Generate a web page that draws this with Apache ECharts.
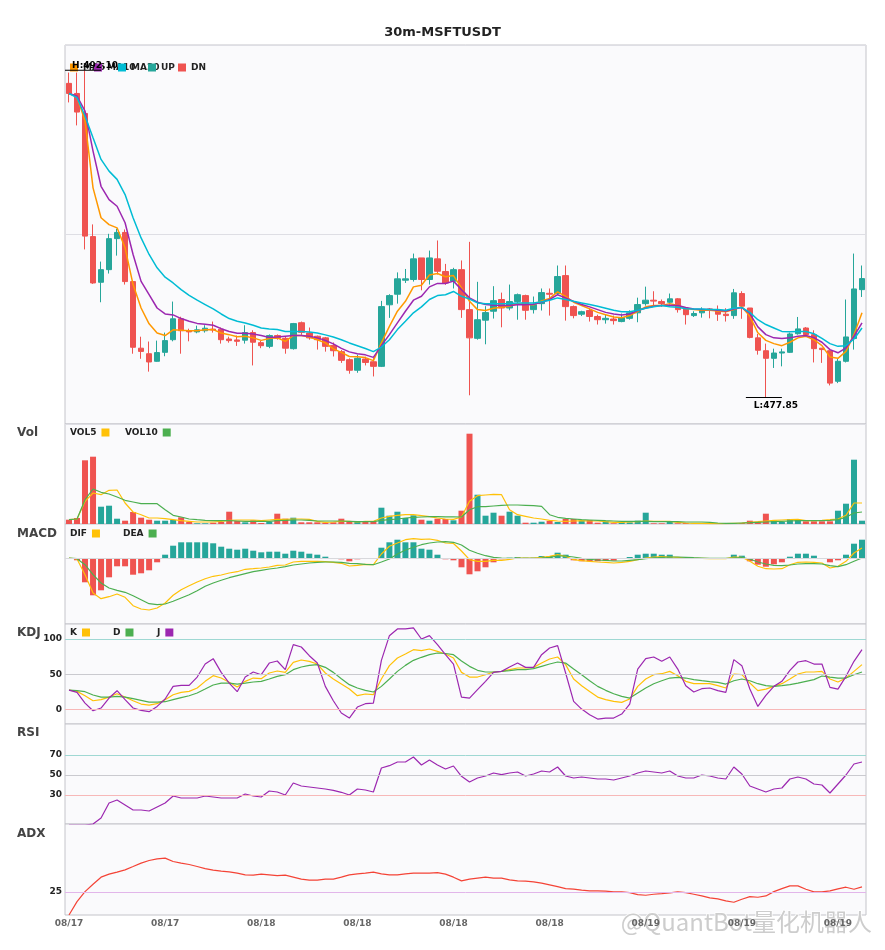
<!DOCTYPE html>
<html>
<head>
<meta charset="utf-8">
<script src="https://cdn.jsdelivr.net/npm/echarts@6.0.0/dist/echarts.min.js"></script>
<style>
  html, body { margin: 0; padding: 0; background: #fff; }
  #chart { width: 885px; height: 950px; }
</style>
</head>
<body>
<div id="chart"></div>
<script>
// candle values (30m bars from 08/17 14:00)
var opens = [
  491.53, 491.09, 490.22, 484.86, 482.87, 483.42, 484.77, 485.04, 482.90, 480.00,
  479.76, 479.43, 479.82, 480.37, 481.28, 480.76, 480.71, 480.76, 480.83, 480.83,
  480.40, 480.36, 480.35, 480.68, 480.24, 480.08, 480.55, 480.43, 479.98, 481.11,
  480.66, 480.52, 480.45, 480.12, 479.85, 479.50, 479.04, 479.53, 479.41, 479.21,
  481.89, 482.35, 482.96, 482.99, 483.93, 482.99, 483.89, 483.34, 482.92, 483.42,
  481.68, 480.43, 481.22, 481.61, 482.12, 481.75, 482.03, 482.29, 481.68, 481.94,
  482.39, 482.38, 483.16, 481.81, 481.48, 481.64, 481.38, 481.24, 481.27, 481.16,
  481.30, 481.54, 481.94, 482.09, 482.03, 482.00, 482.15, 481.71, 481.42, 481.54,
  481.71, 481.64, 481.48, 481.42, 482.38, 481.75, 480.45, 479.89, 479.56, 479.79,
  479.82, 480.63, 480.88, 480.59, 480.00, 479.89, 478.56, 479.43, 480.42, 482.55
];
var closes = [
  491.09, 490.28, 484.88, 482.84, 483.42, 484.77, 485.04, 482.90, 480.04, 479.86,
  479.40, 479.81, 480.33, 481.28, 480.76, 480.71, 480.80, 480.87, 480.79, 480.37,
  480.33, 480.30, 480.68, 480.26, 480.11, 480.55, 480.43, 480.00, 481.07, 480.69,
  480.45, 480.37, 480.08, 479.89, 479.47, 479.04, 479.56, 479.38, 479.21, 481.81,
  482.29, 483.02, 483.02, 483.89, 482.99, 483.93, 483.35, 482.84, 483.42, 481.68,
  480.45, 481.24, 481.55, 482.07, 481.75, 482.03, 482.33, 481.65, 481.90, 482.42,
  482.35, 483.12, 481.81, 481.42, 481.59, 481.38, 481.24, 481.30, 481.20, 481.33,
  481.54, 481.90, 482.09, 482.05, 481.94, 482.15, 481.68, 481.46, 481.51, 481.68,
  481.67, 481.48, 481.42, 482.41, 481.83, 480.47, 479.91, 479.56, 479.79, 479.84,
  480.62, 480.84, 480.59, 479.98, 479.94, 478.48, 479.43, 480.49, 482.58, 483.03
];
var highs = [
  492.00, 492.00, 492.10, 485.39, 483.77, 484.98, 485.20, 485.17, 482.90, 480.50,
  480.29, 480.33, 480.68, 482.03, 481.37, 480.85, 480.98, 481.00, 481.16, 480.90,
  480.50, 480.55, 481.00, 480.78, 480.33, 480.60, 480.60, 480.49, 481.10, 481.16,
  480.90, 480.55, 480.49, 480.25, 479.92, 479.56, 479.72, 479.63, 479.57, 482.06,
  482.35, 483.30, 483.45, 484.12, 483.93, 484.25, 484.69, 483.67, 483.50, 483.82,
  484.63, 482.89, 481.83, 482.70, 482.42, 482.77, 482.38, 482.33, 482.25, 482.60,
  482.60, 483.60, 483.60, 481.86, 481.63, 481.74, 481.46, 481.46, 481.42, 481.51,
  481.65, 482.20, 482.68, 482.48, 482.12, 482.38, 482.18, 481.75, 481.61, 481.78,
  481.75, 481.86, 481.74, 482.58, 482.48, 481.75, 480.62, 480.20, 479.98, 479.98,
  480.68, 481.36, 480.92, 480.78, 480.00, 479.89, 479.54, 482.12, 484.12, 483.60
];
var lows = [
  490.70, 489.70, 484.30, 482.80, 482.00, 483.25, 484.03, 482.77, 479.76, 479.54,
  478.98, 479.41, 479.65, 480.30, 479.76, 480.30, 480.65, 480.68, 480.68, 480.20,
  480.24, 480.10, 480.20, 479.25, 480.00, 480.00, 480.37, 479.76, 479.94, 480.58,
  480.37, 479.94, 479.85, 479.64, 479.36, 478.89, 478.93, 479.25, 478.77, 479.18,
  481.32, 481.94, 482.84, 482.90, 482.52, 482.77, 483.21, 482.76, 482.60, 481.32,
  477.95, 480.37, 480.17, 481.29, 480.91, 481.65, 481.24, 481.24, 481.51, 481.64,
  481.42, 482.33, 481.20, 481.30, 481.40, 481.16, 481.03, 481.07, 481.03, 481.13,
  481.24, 481.13, 481.85, 481.80, 481.80, 481.90, 481.55, 481.03, 481.36, 481.33,
  481.30, 481.19, 481.16, 481.28, 481.28, 480.43, 479.72, 477.85, 479.14, 479.21,
  479.79, 480.59, 480.52, 479.38, 479.36, 478.38, 478.48, 479.38, 479.94, 482.23
];
var ma5 = [
  491.09, 490.95, 489.89, 486.98, 485.68, 485.38, 485.24, 484.37, 482.77, 481.75,
  481.06, 480.66, 480.55, 480.80, 480.78, 480.76, 480.76, 480.80, 480.81, 480.66,
  480.59, 480.50, 480.52, 480.45, 480.34, 480.42, 480.45, 480.30, 480.55, 480.55,
  480.49, 480.37, 480.23, 479.97, 479.82, 479.64, 479.63, 479.59, 479.46, 480.23,
  480.95, 481.61, 482.04, 482.67, 482.74, 483.19, 483.25, 483.11, 483.16, 482.63,
  482.04, 481.68, 481.64, 481.74, 481.78, 481.83, 481.94, 481.90, 481.89, 482.06,
  482.17, 482.45, 482.26, 482.00, 481.86, 481.71, 481.56, 481.46, 481.36, 481.33,
  481.42, 481.61, 481.80, 481.86, 481.86, 481.94, 481.86, 481.74, 481.68, 481.65,
  481.65, 481.62, 481.59, 481.68, 481.80, 481.39, 480.67, 480.34, 480.20, 480.11,
  480.26, 480.45, 480.52, 480.37, 480.11, 479.62, 479.56, 479.86, 480.59, 481.54
];
var ma10 = [
  491.09, 490.98, 490.32, 488.58, 487.05, 486.47, 486.18, 485.46, 484.08, 482.91,
  482.33, 481.75, 481.49, 481.45, 481.29, 481.17, 481.08, 481.04, 481.00, 480.85,
  480.73, 480.65, 480.65, 480.62, 480.55, 480.47, 480.49, 480.52, 480.55, 480.55,
  480.52, 480.45, 480.34, 480.19, 479.99, 479.84, 479.76, 479.71, 479.60, 480.11,
  480.59, 481.10, 481.61, 482.09, 482.26, 482.67, 482.82, 482.82, 482.92, 482.55,
  482.19, 482.00, 481.90, 481.87, 481.86, 481.86, 481.89, 481.89, 481.91, 482.00,
  482.12, 482.33, 482.19, 482.04, 481.90, 481.80, 481.68, 481.56, 481.49, 481.45,
  481.49, 481.64, 481.75, 481.83, 481.86, 481.87, 481.86, 481.77, 481.71, 481.68,
  481.68, 481.65, 481.62, 481.71, 481.77, 481.51, 480.93, 480.59, 480.45, 480.42,
  480.45, 480.52, 480.55, 480.46, 480.26, 479.94, 479.80, 480.01, 480.52, 481.10
];
var ma20 = [
  491.09, 490.91, 490.11, 489.16, 488.22, 487.71, 487.35, 486.69, 485.68, 484.80,
  484.08, 483.50, 483.09, 482.84, 482.55, 482.30, 482.09, 481.90, 481.71, 481.49,
  481.29, 481.17, 481.10, 481.00, 480.88, 480.84, 480.81, 480.73, 480.73, 480.73,
  480.71, 480.66, 480.58, 480.49, 480.37, 480.23, 480.11, 479.99, 479.85, 480.05,
  480.37, 480.81, 481.17, 481.54, 481.80, 482.12, 482.29, 482.33, 482.47, 482.26,
  482.14, 481.97, 481.94, 481.94, 481.94, 481.95, 481.97, 481.97, 481.97, 482.02,
  482.09, 482.19, 482.12, 482.04, 481.97, 481.90, 481.83, 481.74, 481.65, 481.59,
  481.59, 481.65, 481.74, 481.80, 481.86, 481.80, 481.78, 481.72, 481.71, 481.71,
  481.69, 481.68, 481.65, 481.74, 481.77, 481.56, 481.24, 481.03, 480.88, 480.73,
  480.72, 480.73, 480.73, 480.63, 480.43, 480.20, 480.08, 480.11, 480.40, 480.88
];
var vol = [
  4.3, 6, 63.7, 67.3, 17.3, 18.3, 5.3, 3.3, 12, 6.3,
  4.3, 3.3, 3.3, 4, 6.7, 2.3, 0.7, 0.7, 1.3, 2,
  12.3, 3, 1.7, 3.7, 1, 2.3, 10.3, 5.3, 6.3, 1.7,
  1.7, 1.7, 1.3, 1.7, 5.3, 2.7, 2.3, 2.7, 2.7, 16.3,
  8.3, 12.3, 6, 8.7, 4.3, 3.3, 5.3, 5, 3.7, 13.3,
  90.3, 29.3, 8.3, 11.3, 8.3, 12.3, 8.3, 1.3, 1.3, 2.3,
  3, 2, 5, 5, 3.3, 4, 1.3, 2.7, 0.7, 2,
  1.7, 3.3, 11.3, 0.7, 0.7, 2, 0.7, 1, 0.3, 0.3,
  0.3, 0.7, 1, 1, 1, 3.3, 1.7, 10.3, 3.3, 2,
  5, 4, 2.7, 2.7, 2.7, 2.7, 13.3, 20.3, 64.3, 3.3
];
var vol5 = [
  4.3, 5, 22.7, 31, 29.3, 33.7, 34, 21, 12, 9.3,
  6, 6, 5.3, 4.3, 3.3, 2.7, 2, 2, 2, 2.7,
  3.7, 4, 4, 4, 3.3, 4, 4.7, 4.7, 5, 5,
  4.7, 2.7, 1.7, 2, 2.7, 2.7, 2, 2.7, 2.7, 6,
  7.7, 8.7, 9.3, 9.3, 8.3, 7.3, 6, 5, 4.7, 7,
  22.7, 28.3, 29, 29.7, 29.3, 14.3, 9.3, 7.7, 6, 5,
  3.7, 3, 2.7, 3, 3.3, 3, 3, 2.3, 1.7, 1.7,
  2, 2.3, 3, 2.7, 2.7, 2.7, 1.7, 1, 0.7, 0.7,
  0.3, 0.3, 0.3, 0.7, 1, 1.7, 2.3, 3, 3.7, 4,
  4.3, 4.7, 3.3, 3.3, 3.7, 4.3, 5, 8.7, 21, 21
];
var vol10 = [
  4.3, 5, 24.3, 35, 31.7, 30, 27, 23.7, 22, 20.3,
  20.3, 20.3, 14.3, 8.7, 7, 5, 4.3, 3.7, 3.3, 3.3,
  3.3, 3, 2.7, 2.7, 2.7, 2.7, 3.3, 3.7, 4, 4,
  3.7, 3, 3, 3, 3, 2.7, 2.3, 2.3, 2.3, 3.7,
  4.3, 5, 6, 6.7, 7, 7.3, 7.3, 7.2, 7.1, 7,
  14.3, 17.3, 17.3, 18, 18.7, 19, 19, 18.7, 18.3, 17.7,
  9.3, 6.7, 5.7, 5, 4.3, 4, 3.7, 3.3, 3, 2.7,
  2.7, 2.7, 2.7, 2.3, 2.3, 2.3, 2.3, 2, 2, 2,
  1.7, 1, 0.7, 0.7, 1, 1.3, 1.7, 2, 2.3, 2.7,
  3, 3.3, 3.3, 3.3, 3.3, 3.7, 4.3, 6.7, 11, 12
];
var macdHist = [
  0, -0.023, -0.243, -0.373, -0.323, -0.193, -0.083, -0.083, -0.167, -0.153,
  -0.123, -0.043, 0.033, 0.123, 0.157, 0.157, 0.157, 0.157, 0.147, 0.113,
  0.093, 0.083, 0.093, 0.073, 0.057, 0.063, 0.063, 0.043, 0.073, 0.063,
  0.043, 0.033, 0.013, -0.003, -0.013, -0.033, -0.013, -0.003, -0.003, 0.103,
  0.157, 0.183, 0.157, 0.157, 0.093, 0.083, 0.033, -0.013, -0.023, -0.093,
  -0.163, -0.133, -0.093, -0.043, -0.013, 0.003, 0.01, 0.003, 0.003, 0.02,
  0.02, 0.053, 0.033, -0.023, -0.033, -0.033, -0.033, -0.027, -0.027, -0.007,
  0.01, 0.033, 0.043, 0.043, 0.033, 0.033, 0.003, 0, 0, 0,
  0, -0.007, -0.007, 0.033, 0.023, -0.033, -0.067, -0.087, -0.063, -0.043,
  0.013, 0.043, 0.043, 0.023, 0, -0.043, -0.023, 0.033, 0.143, 0.183
];
var dif = [
  0, -0.01, -0.167, -0.35, -0.407, -0.387, -0.36, -0.393, -0.477, -0.51,
  -0.52, -0.50, -0.45, -0.373, -0.317, -0.277, -0.24, -0.207, -0.183, -0.17,
  -0.15, -0.137, -0.113, -0.107, -0.10, -0.09, -0.073, -0.07, -0.04, -0.033,
  -0.033, -0.033, -0.037, -0.043, -0.053, -0.08, -0.073, -0.063, -0.067, 0.04,
  0.117, 0.15, 0.183, 0.193, 0.187, 0.19, 0.177, 0.15, 0.145, 0.07,
  -0.017, -0.033, -0.033, -0.023, -0.023, -0.013, 0, 0, 0, 0.007,
  0.017, 0.033, 0.017, -0.017, -0.027, -0.033, -0.04, -0.043, -0.05, -0.043,
  -0.033, -0.017, 0, 0.01, 0.013, 0.01, 0.007, 0, -0.003, -0.003,
  -0.007, -0.007, -0.007, 0.01, 0.007, -0.033, -0.083, -0.107, -0.11, -0.107,
  -0.067, -0.043, -0.04, -0.043, -0.05, -0.10, -0.083, -0.033, 0.05, 0.10
];
var dea = [
  0, -0.007, -0.067, -0.167, -0.25, -0.30, -0.323, -0.343, -0.377, -0.417,
  -0.457, -0.467, -0.46, -0.433, -0.40, -0.367, -0.327, -0.283, -0.25, -0.223,
  -0.197, -0.177, -0.157, -0.137, -0.123, -0.11, -0.10, -0.087, -0.07, -0.06,
  -0.05, -0.043, -0.04, -0.04, -0.043, -0.053, -0.057, -0.063, -0.067, -0.04,
  -0.01, 0.04, 0.08, 0.107, 0.133, 0.15, 0.16, 0.163, 0.157, 0.13,
  0.077, 0.047, 0.023, 0.007, 0, -0.003, -0.003, -0.003, -0.003, 0,
  0.007, 0.02, 0.02, 0.01, -0.003, -0.013, -0.02, -0.023, -0.03, -0.03,
  -0.023, -0.017, -0.007, 0, 0.007, 0.01, 0.01, 0.007, 0.003, 0,
  -0.003, -0.003, -0.003, 0, 0.003, -0.01, -0.04, -0.06, -0.073, -0.077,
  -0.07, -0.06, -0.057, -0.057, -0.06, -0.077, -0.087, -0.067, -0.033, 0
];
var kLine = [
  27.8, 25.9, 19.8, 12.7, 14.2, 17.9, 22.6, 17.9, 12.7, 8.0,
  6.6, 8.5, 14.2, 21.2, 24.5, 25.9, 30.7, 40.1, 48.1, 44.8,
  38.7, 32.1, 40.1, 44.8, 43.9, 51.9, 54.7, 52.8, 67.0, 70.3,
  68.4, 64.6, 51.9, 43.4, 36.3, 29.2, 19.8, 22.2, 21.2, 43.4,
  62.3, 73.1, 78.8, 84.9, 83.5, 85.8, 82.5, 78.8, 73.1, 52.8,
  46.2, 46.2, 49.5, 53.3, 54.2, 56.6, 59.0, 59.0, 59.9, 66.0,
  71.7, 74.5, 63.7, 43.4, 34.0, 25.9, 17.9, 14.2, 11.8, 10.4,
  15.1, 33.0, 43.4, 49.5, 50.9, 54.2, 48.1, 40.1, 36.8, 36.8,
  36.8, 34.0, 30.7, 50.5, 49.5, 37.7, 26.9, 29.2, 33.0, 36.8,
  43.4, 50.5, 53.3, 53.3, 54.2, 43.4, 39.2, 44.8, 54.2, 63.7
];
var dLine = [
  27.8, 26.9, 25.5, 20.8, 17.9, 17.9, 18.9, 17.9, 15.6, 13.2,
  10.8, 10.8, 11.3, 14.2, 17.0, 19.8, 23.6, 29.2, 34.9, 37.7,
  37.7, 36.3, 37.7, 39.2, 40.1, 43.4, 47.2, 49.5, 56.6, 60.4,
  62.7, 63.7, 59.9, 52.8, 43.9, 35.4, 30.7, 27.4, 25.0, 33.0,
  43.4, 54.2, 62.7, 69.8, 74.1, 77.8, 80.2, 79.5, 77.8, 69.0,
  61.3, 55.7, 53.3, 53.3, 54.2, 55.2, 56.6, 56.6, 58.0, 61.3,
  64.6, 67.5, 66.0, 57.5, 49.5, 41.0, 33.0, 27.4, 22.6, 18.9,
  16.5, 23.6, 30.7, 36.8, 41.0, 44.8, 45.8, 44.8, 42.5, 41.0,
  39.6, 38.7, 36.3, 41.0, 43.4, 41.0, 36.8, 34.0, 33.0, 34.0,
  35.4, 37.7, 40.1, 42.5, 47.7, 46.2, 44.8, 44.8, 49.5, 53.3
];
var jLine = [
  27.8, 24.5, 9.4, -1.4, 2.4, 16.5, 26.9, 14.2, 2.4, -0.9,
  -2.8, 4.7, 15.1, 33.0, 34.4, 34.4, 46.2, 64.6, 72.2, 52.8,
  37.7, 25.5, 46.2, 53.3, 49.5, 66.0, 68.9, 56.6, 92.0, 88.7,
  76.4, 66.0, 33.0, 12.7, -4.7, -11.8, 3.8, 8.5, 9.4, 69.8,
  104.7, 114.2, 114.2, 115.6, 100.0, 104.7, 92.0, 77.8, 64.6, 17.9,
  16.5, 28.3, 40.1, 52.8, 54.2, 60.4, 66.0, 59.9, 59.9, 77.8,
  87.3, 90.6, 51.9, 11.8, 0.9, -7.1, -13.2, -11.8, -11.8, -6.1,
  8.0, 57.5, 72.2, 74.5, 68.4, 74.5, 57.5, 34.0, 25.0, 29.7,
  30.7, 26.9, 24.5, 70.8, 62.3, 29.2, 4.7, 20.3, 33.0, 40.1,
  55.7, 67.5, 69.3, 64.6, 64.6, 31.6, 29.2, 47.2, 68.4, 84.9
];
var rsi = [
  0, 0, 0, 1, 7, 22, 25, 20, 15, 15,
  14, 18, 22, 29, 27, 27, 27, 29, 28, 27,
  27, 27, 31, 29, 28, 34, 33, 30, 42, 39,
  38, 37, 36, 34.7, 32.7, 30, 36, 35, 33, 57,
  59.3, 63, 63, 68, 60, 65, 60, 56, 59, 48.7,
  43, 47, 49, 52, 50.3, 52, 53, 49, 51, 54,
  53, 58, 49, 47, 48, 47, 46, 46, 45, 47,
  49, 52, 54, 53, 52, 54, 49, 47, 47, 50,
  49, 47, 46, 58, 51, 39, 36, 33, 36, 37,
  46, 48, 46, 41, 40, 32, 41, 50, 61, 63
];
var adx = [
  2, 15.3, 25.3, 32.7, 39.7, 42.7, 44.7, 47, 50.3, 53.7,
  56.3, 58, 58.7, 55.3, 53.7, 52.3, 50.3, 48.3, 46.7, 45.7,
  45, 43.7, 42, 41.7, 42.7, 42, 41.3, 41.7, 39.7, 37.7,
  36.7, 36.7, 37.7, 37.7, 39.7, 42, 43, 43.7, 44.7, 43,
  42, 42, 43, 43.7, 43.7, 43.7, 44.3, 42.7, 39.7, 36,
  37.7, 38.7, 39.7, 38.7, 38.7, 37, 36, 35.7, 35, 33.7,
  32, 30.3, 28.3, 27.7, 26.7, 26, 26, 25.7, 25, 25,
  24.3, 22.3, 21.7, 22.7, 23.3, 24, 25, 24.3, 22.7, 21,
  19, 18, 16, 14.7, 17.7, 20.3, 19.7, 21, 25.3, 28.3,
  31, 31, 27.7, 25, 25, 26, 28, 29.7, 27.7, 30
];
var kdjLevels = [100, 50, 0];
var rsiLevels = [70, 50, 30];
var adxLevels = [25];

// 时间轴：08/17 14:00 起，每根 30 分钟
function pad(n) { return n < 10 ? '0' + n : '' + n; }
var times = [];
for (var i = 0; i < opens.length; i++) {
  var t = 14 * 60 + i * 30;
  var day = 17 + Math.floor(t / 1440);
  var m = t % 1440;
  times.push('08/' + day + ' ' + pad(Math.floor(m / 60)) + ':' + pad(m % 60));
}

var UP = '#26a69a', DN = '#ef5350';
var hiIdx = highs.indexOf(Math.max.apply(null, highs));
var loIdx = lows.indexOf(Math.min.apply(null, lows));

var candles = opens.map(function (o, i) { return [o, closes[i], lows[i], highs[i]]; });
var volBars = vol.map(function (v, i) {
  return { value: v, itemStyle: { color: closes[i] >= opens[i] ? UP : DN } };
});
var histBars = macdHist.map(function (v) {
  return { value: v, itemStyle: { color: v >= 0 ? UP : DN } };
});

var myChart = echarts.init(document.getElementById('chart'));

var gridBase = { left: 65, right: 19, show: true, backgroundColor: '#fafafc', borderColor: '#c4c4ca', borderWidth: 1 };
var grids = [
  Object.assign({ top: 45, height: 379 }, gridBase),
  Object.assign({ top: 424, height: 100 }, gridBase),
  Object.assign({ top: 524, height: 100 }, gridBase),
  Object.assign({ top: 624, height: 100 }, gridBase),
  Object.assign({ top: 724, height: 100 }, gridBase),
  Object.assign({ top: 824, height: 91 }, gridBase)
];

var xAxes = grids.map(function (g, idx) {
  return {
    type: 'category', gridIndex: idx, data: times,
    axisLine: { show: false }, axisTick: { show: false }, splitLine: { show: false },
    axisLabel: idx === 5 ? {
      show: true, interval: 11, margin: 4, fontSize: 9, fontWeight: 'bold', color: '#666',
      formatter: function (v) { return v.slice(0, 5); }
    } : { show: false }
  };
});

var labelStyle = { fontSize: 9, fontWeight: 'bold', color: '#222', margin: 3 };
function levelAxis(idx, min, max, levels) {
  return {
    type: 'value', gridIndex: idx, min: min, max: max,
    axisLine: { show: false }, axisTick: { show: false }, splitLine: { show: false },
    axisLabel: Object.assign({ customValues: levels }, labelStyle)
  };
}
var yAxes = [
  { type: 'value', gridIndex: 0, min: 476.7, max: 493.2, interval: 8.25,
    axisLine: { show: false }, axisTick: { show: false }, axisLabel: { show: false },
    splitLine: { show: true, lineStyle: { color: '#dedee4' } } },
  { type: 'value', gridIndex: 1, min: 0, max: 100, axisLabel: { show: false },
    axisLine: { show: false }, axisTick: { show: false }, splitLine: { show: false } },
  { type: 'value', gridIndex: 2, min: -0.66, max: 0.34, axisLabel: { show: false },
    axisLine: { show: false }, axisTick: { show: false }, splitLine: { show: false } },
  levelAxis(3, -20.2, 121.2, kdjLevels),
  levelAxis(4, 1, 101, rsiLevels),
  levelAxis(5, 2, 92.7, adxLevels)
];

function levelLines(levels, colors) {
  return {
    silent: true, symbol: 'none', animation: false, label: { show: false },
    data: levels.map(function (v, i) { return { yAxis: v, lineStyle: { color: colors[i], type: 'solid', width: 1 } }; })
  };
}
function line(name, data, color, axis, width, extra) {
  return Object.assign({
    name: name, type: 'line', data: data, xAxisIndex: axis, yAxisIndex: axis,
    symbol: 'none', smooth: false, lineStyle: { color: color, width: width || 1.2 },
    itemStyle: { color: color }, z: 3
  }, extra || {});
}

// 图例：每项单独一个，位置按原图
var legendText = { fontSize: 9, fontWeight: 'bold', color: '#222' };
function legendItem(name, left, top, iconRight, textWidth) {
  return {
    data: [name], left: left, top: top, padding: 0, icon: 'rect',
    itemWidth: 8, itemHeight: 8, selectedMode: false,
    align: iconRight ? 'right' : 'left',
    textStyle: Object.assign(textWidth ? { width: textWidth } : {}, legendText)
  };
}

var panelTitle = function (text, top) {
  return { text: text, left: 17, top: top, padding: 0,
    textStyle: { fontSize: 12, fontWeight: 'bold', color: '#444' } };
};

var option = {
  animation: false,
  textStyle: { fontFamily: 'DejaVu Sans' },
  title: [
    { text: '30m-MSFTUSDT', left: 'center', top: 26, padding: 0,
      textStyle: { fontSize: 13, fontWeight: 'bold', color: '#222' } },
    panelTitle('Vol', 427),
    panelTitle('MACD', 528),
    panelTitle('KDJ', 627),
    panelTitle('RSI', 727),
    panelTitle('ADX', 828)
  ],
  legend: [
    legendItem('MA5', 70, 63),
    legendItem('MA10', 94, 63),
    legendItem('MA20', 118, 63),
    legendItem('UP', 148, 63),
    legendItem('DN', 178, 63),
    legendItem('VOL5', 70, 428, true, 26),
    legendItem('VOL10', 125, 428, true, 33),
    legendItem('DIF', 70, 529, true, 22),
    legendItem('DEA', 123, 529, true, 25),
    legendItem('K', 70, 628, true, 12),
    legendItem('D', 113, 628, true, 13),
    legendItem('J', 157, 628, true, 13)
  ],
  grid: grids,
  xAxis: xAxes,
  yAxis: yAxes,
  graphic: [{
    type: 'text', left: 620, top: 909, silent: true,
    style: { text: '@QuantBot量化机器人', font: '24px "Noto Sans CJK SC"',
      fill: '#cdcdcd', stroke: '#ffffff', lineWidth: 1.5 }
  }],
  series: [
    {
      name: 'Kline', type: 'candlestick', data: candles, xAxisIndex: 0, yAxisIndex: 0,
      barWidth: 6,
      itemStyle: { color: UP, color0: DN, borderColor: UP, borderColor0: DN, borderWidth: 1 },
      markPoint: {
        silent: true, animation: false,
        data: [
          { coord: [times[hiIdx], highs[hiIdx]], symbol: 'rect', symbolSize: [36, 1], symbolOffset: [-2, 0],
            itemStyle: { color: '#000' },
            label: { show: true, position: 'top', distance: 0, offset: [12, 0], formatter: 'H:' + highs[hiIdx].toFixed(2),
              fontSize: 9, fontWeight: 'bold', color: '#000' } },
          { coord: [times[loIdx], lows[loIdx]], symbol: 'rect', symbolSize: [36, 1], symbolOffset: [-2, 0],
            itemStyle: { color: '#000' },
            label: { show: true, position: 'bottom', distance: 3, offset: [12, 0], formatter: 'L:' + lows[loIdx].toFixed(2),
              fontSize: 9, fontWeight: 'bold', color: '#000' } }
        ]
      }
    },
    line('MA5', ma5, '#ff9800', 0, 1.5),
    line('MA10', ma10, '#9c27b0', 0, 1.5),
    line('MA20', ma20, '#00bcd4', 0, 1.5),
    line('UP', [], UP, 0),
    line('DN', [], DN, 0),
    { name: 'Vol', type: 'bar', data: volBars, xAxisIndex: 1, yAxisIndex: 1, barWidth: 6 },
    line('VOL5', vol5, '#ffc107', 1),
    line('VOL10', vol10, '#4caf50', 1),
    { name: 'MACD', type: 'bar', data: histBars, xAxisIndex: 2, yAxisIndex: 2, barWidth: 6 },
    line('DIF', dif, '#ffc107', 2, 1.2, { markLine: levelLines([0], ['#d8d8dc']) }),
    line('DEA', dea, '#4caf50', 2),
    line('K', kLine, '#ffc107', 3, 1.2, { markLine: levelLines(kdjLevels, ['#9fd8d3', '#cacacf', '#f7b8b8']) }),
    line('D', dLine, '#4caf50', 3),
    line('J', jLine, '#9c27b0', 3),
    line('RSI', rsi, '#9c27b0', 4, 1.2, { markLine: levelLines(rsiLevels, ['#9fd8d3', '#cacacf', '#f7b8b8']) }),
    line('ADX', adx, '#f44336', 5, 1.2, { markLine: levelLines(adxLevels, ['#e2b6ea']) })
  ]
};

myChart.setOption(option);
window.onresize = myChart.resize;
</script>
</body>
</html>
